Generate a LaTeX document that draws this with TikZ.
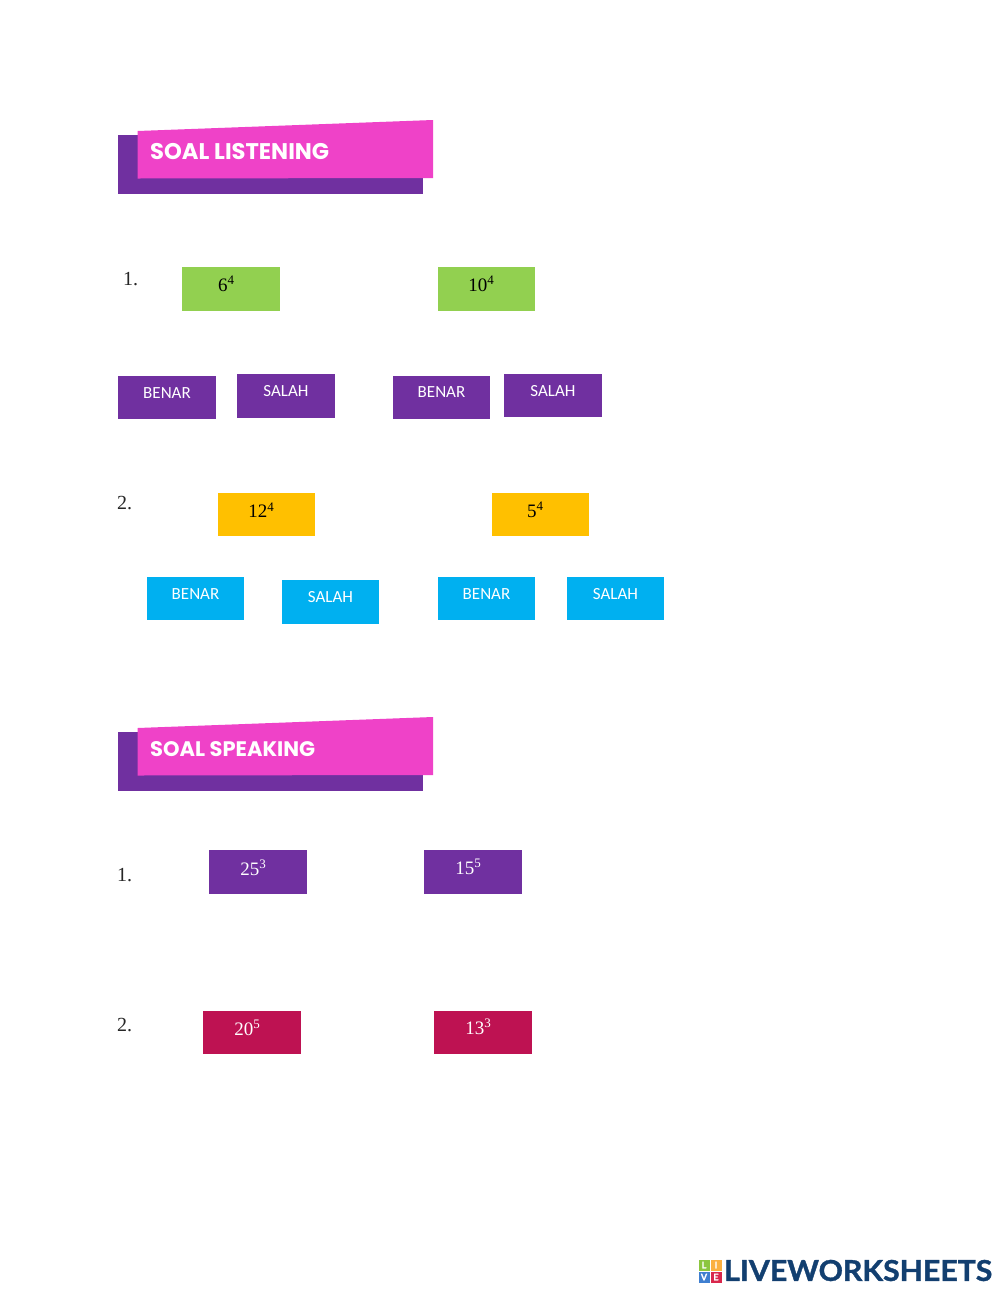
\documentclass[tikz,border=0pt]{standalone}
\usepackage{fontspec}
\setmainfont{Liberation Serif}
\newfontfamily\boxfont{Carlito}
\newfontfamily\headfont{Poppins}
\newfontfamily\logofont[BoldFeatures={FakeBold=1.2}]{Lato}
\definecolor{violetbar}{HTML}{7030A0}
\definecolor{pinkbar}{HTML}{EF42C8}
\definecolor{greenbox}{HTML}{92D050}
\definecolor{amberbox}{HTML}{FFC000}
\definecolor{skybox}{HTML}{00B0F0}
\definecolor{redbox}{HTML}{BE1252}
\definecolor{logoblue}{HTML}{123F70}
\definecolor{tilegreen}{HTML}{8CC63F}
\definecolor{tileamber}{HTML}{FBB040}
\definecolor{tileblue}{HTML}{3F7FD0}
\definecolor{tilered}{HTML}{D9274C}
\tikzset{
  x=1pt,y=-1pt,
  card/.style={inner sep=0pt,outer sep=0pt,minimum width=97.5pt,minimum height=43.5pt},
  cardword/.style={inner sep=0pt,text=white,font=\boxfont\fontsize{17}{20}\selectfont},
  power/.style={inner sep=0pt,font=\fontsize{19}{22}\selectfont},
  listnum/.style={inner sep=0pt,anchor=west,text=black!85,font=\fontsize{20}{24}\selectfont},
  headword/.style={inner sep=0pt,anchor=west,text=white,font=\headfont\bfseries\fontsize{20.5}{25}\selectfont},
  tile/.style={inner sep=0pt,outer sep=0pt,minimum size=11pt,text=white,font=\logofont\bfseries\fontsize{9}{9}\selectfont},
}
\newcommand{\pw}[2]{#1\raisebox{6.5pt}{\fontsize{13}{13}\selectfont #2}}
\begin{document}
\begin{tikzpicture}
\useasboundingbox (0,0) rectangle (1000,1291);
\fill[white] (0,0) rectangle (1000,1291);
% heading 1
\fill[violetbar] (118,135) rectangle (423,194);
\fill[pinkbar] (137.5,131) -- (433,120) -- (433,178) -- (137.5,178.5) -- cycle;
\node[headword] (h1) at (150,152) {\resizebox{179pt}{!}{SOAL LISTENING}};
% heading 2
\fill[violetbar] (118,732) rectangle (423,791);
\fill[pinkbar] (137.5,728) -- (433,717) -- (433,775) -- (137.5,775.5) -- cycle;
\node[headword] (h2) at (150,749) {\resizebox{165pt}{!}{SOAL SPEAKING}};
% numbers
\node[listnum] (n1) at (123,279) {1.};
\node[listnum] (n2) at (117,503) {2.};
\node[listnum] (n3) at (117,875) {1.};
\node[listnum] (n4) at (117,1025) {2.};
% listening 1
\node[card,fill=greenbox] (a1) at (231,289) {};
\node[power,text=black] (a1t) at (226,284) {\pw{6}{4}};
\node[card,fill=greenbox] (a2) at (486.5,289) {};
\node[power,text=black] (a2t) at (481,284) {\pw{10}{4}};
\node[card,fill=violetbar] (b1) at (167,397.5) {};
\node[cardword] (b1t) at (167,393) {BENAR};
\node[card,fill=violetbar] (b2) at (286,396) {};
\node[cardword] (b2t) at (286,391) {SALAH};
\node[card,fill=violetbar] (b3) at (441.5,397.5) {};
\node[cardword] (b3t) at (441.5,392) {BENAR};
\node[card,fill=violetbar] (b4) at (553,395.5) {};
\node[cardword] (b4t) at (553,391) {SALAH};
% listening 2
\node[card,fill=amberbox] (c1) at (266.5,514.5) {};
\node[power,text=black] (c1t) at (261,510) {\pw{12}{4}};
\node[card,fill=amberbox] (c2) at (540.5,514.5) {};
\node[power,text=black] (c2t) at (535,510) {\pw{5}{4}};
\node[card,fill=skybox] (d1) at (195.5,598.5) {};
\node[cardword] (d1t) at (195.5,594) {BENAR};
\node[card,fill=skybox] (d2) at (330.5,602) {};
\node[cardword] (d2t) at (330.5,597) {SALAH};
\node[card,fill=skybox] (d3) at (486.5,598.5) {};
\node[cardword] (d3t) at (486.5,594) {BENAR};
\node[card,fill=skybox] (d4) at (615.5,598.5) {};
\node[cardword] (d4t) at (615.5,594) {SALAH};
% speaking
\node[card,fill=violetbar] (e1) at (258,872) {};
\node[power,text=white] (e1t) at (253,868) {\pw{25}{3}};
\node[card,fill=violetbar] (e2) at (473,872) {};
\node[power,text=white] (e2t) at (468,867) {\pw{15}{5}};
\node[card,fill=redbox] (f1) at (252,1032.5) {};
\node[power,text=white] (f1t) at (247,1028) {\pw{20}{5}};
\node[card,fill=redbox] (f2) at (483,1032.5) {};
\node[power,text=white] (f2t) at (478,1027) {\pw{13}{3}};
% logo
\node[tile,fill=tilegreen] (l1) at (704,1265) {L};
\node[tile,fill=tileamber] (l2) at (716,1265) {I};
\node[tile,fill=tileblue] (l3) at (704,1277) {V};
\node[tile,fill=tilered] (l4) at (716,1277) {E};
\node[inner sep=0pt,anchor=west,text=logoblue] (logo) at (724,1270.5) {\resizebox{268pt}{21pt}{\logofont\bfseries LIVEWORKSHEETS}};
\end{tikzpicture}
\end{document}
